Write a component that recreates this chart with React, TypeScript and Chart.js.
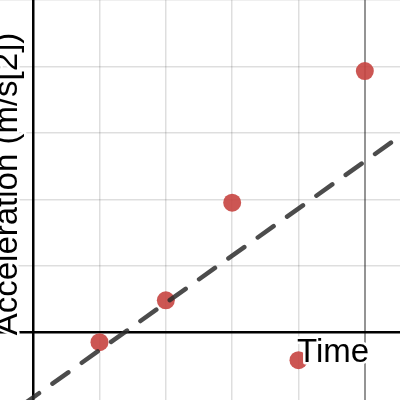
import React, { useEffect, useRef } from "react";
import { Chart, registerables } from "chart.js";

Chart.register(...registerables);

const pointX = [1, 2, 3, 4, 5];
const pointY = [-0.15, 0.48, 1.95, -0.42, 3.93];
const trendX = [-0.5, 5.53];
const trendY = [-1.336, 2.95];
const gridTicks = [0, 1, 2, 3, 4, 5];
const xLabel = "Time";
const yLabel = "Acceleration (m/s[2])";

const labelPlugin = {
  id: "axisLabels",
  afterDraw(chart: any) {
    const ctx = chart.ctx as CanvasRenderingContext2D;
    const area = chart.chartArea;
    ctx.save();
    ctx.font = '33px "Liberation Sans", Arial, sans-serif';
    ctx.lineJoin = "round";
    ctx.strokeStyle = "#ffffff";
    ctx.lineWidth = 5;
    ctx.fillStyle = "#000000";
    ctx.textBaseline = "alphabetic";
    // y label
    ctx.save();
    ctx.translate(area.left + 17, area.top + 184);
    ctx.rotate(-Math.PI / 2);
    ctx.textAlign = "center";
    ctx.strokeText(yLabel, 0, 0);
    ctx.fillText(yLabel, 0, 0);
    ctx.restore();
    // x label
    ctx.textAlign = "left";
    ctx.strokeText(xLabel, area.left + 297, area.top + 362);
    ctx.fillText(xLabel, area.left + 297, area.top + 362);
    ctx.restore();
  },
};

const gridColor = (axisMark: number | null) => (c: any) => {
  const v = c.tick ? c.tick.value : null;
  if (v === 0) return "#000000";
  if (axisMark !== null && v === axisMark) return "rgba(0,0,0,0.42)";
  return "rgba(0,0,0,0.13)";
};
const gridWidth = (axisMark: number | null) => (c: any) => {
  const v = c.tick ? c.tick.value : null;
  if (v === 0) return 2.5;
  if (axisMark !== null && v === axisMark) return 2;
  return 1.5;
};

export default function App() {
  const ref = useRef<HTMLCanvasElement>(null);
  useEffect(() => {
    if (!ref.current) return;
    const chart = new Chart(ref.current, {
      type: "scatter",
      data: {
        datasets: [
          {
            label: "trend",
            data: trendX.map((x, i) => ({ x, y: trendY[i] })),
            borderColor: "rgba(45,45,45,0.85)",
            borderWidth: 4.5,
            borderDash: [19.5, 16.5],
            borderDashOffset: 7.6,
            borderCapStyle: "round",
            pointRadius: 0,
            showLine: true,
            fill: false,
          } as any,
          {
            label: "points",
            data: pointX.map((x, i) => ({ x, y: pointY[i] })),
            backgroundColor: "rgba(199,68,64,0.9)",
            borderWidth: 0,
            pointRadius: 9,
            pointHoverRadius: 9,
            showLine: false,
          },
        ],
      },
      options: {
        responsive: false,
        animation: false,
        layout: { padding: 0, autoPadding: false },
        plugins: {
          legend: { display: false },
          tooltip: { enabled: false },
          title: { display: false },
        },
        scales: {
          x: {
            type: "linear",
            min: -0.5,
            max: 5.53,
            afterBuildTicks: (s: any) => {
              s.ticks = gridTicks.map((v) => ({ value: v }));
            },
            ticks: { display: false },
            border: { display: false },
            grid: {
              drawTicks: false,
              color: gridColor(5) as any,
              lineWidth: gridWidth(5) as any,
            },
          },
          y: {
            type: "linear",
            min: -1.02,
            max: 5,
            afterBuildTicks: (s: any) => {
              s.ticks = gridTicks.map((v) => ({ value: v }));
            },
            ticks: { display: false },
            border: { display: false },
            grid: {
              drawTicks: false,
              color: gridColor(null) as any,
              lineWidth: gridWidth(null) as any,
            },
          },
        },
      },
      plugins: [labelPlugin],
    });
    return () => chart.destroy();
  }, []);
  return (
    <div style={{ position: "fixed", left: 0, top: 0, width: 400, height: 400, background: "#fff" }}>
      <canvas ref={ref} width={400} height={400} style={{ display: "block" }} />
    </div>
  );
}
